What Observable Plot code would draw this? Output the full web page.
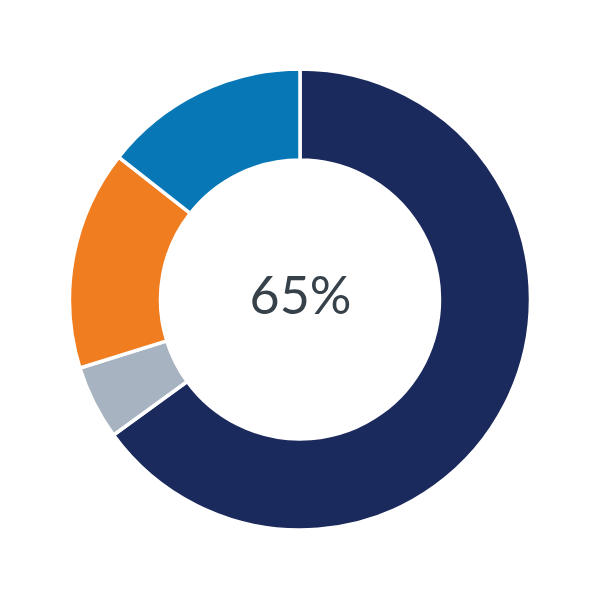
<!DOCTYPE html>
<html><head><meta charset="utf-8">
<script src="https://cdn.jsdelivr.net/npm/d3@7"></script>
<script src="https://cdn.jsdelivr.net/npm/@observablehq/plot@0.6"></script>
<style>body{margin:0;background:#fff}</style>
</head><body><div id="chart"></div>
<script>
const categories = ["A", "B", "C", "D"];
const values = [65, 5.2, 15.4, 14.4];
const colors = ["#1b2a5c", "#a8b3c1", "#f07d20", "#0877b6"];
const centerLabel = "65%";

const outerR = 230.5, innerR = 139.5;
const data = categories.map((c, i) => ({category: c, value: values[i], color: colors[i]}));

function donut(index, scales, vals, dims) {
  const cx = scales.x(0), cy = scales.y(0);
  const ro = scales.x(outerR) - cx, ri = scales.x(innerR) - cx;
  const pie = d3.pie().sort(null).value(d => d.value)(data);
  const arc = d3.arc().innerRadius(ri).outerRadius(ro);
  const g = d3.create("svg:g").attr("transform", `translate(${cx},${cy})`);
  g.selectAll("path").data(pie).join("path")
    .attr("d", arc)
    .attr("fill", d => d.data.color)
    .attr("stroke", "#fff")
    .attr("stroke-width", 3.5)
    .attr("stroke-linejoin", "miter");
  return g.node();
}

const chart = Plot.plot({
  width: 600, height: 599,
  margin: 0,
  x: {domain: [-300, 300], axis: null},
  y: {domain: [-299.5, 299.5], axis: null},
  marks: [
    donut,
    Plot.text([centerLabel], {x: 0, y: 0, text: d => d, fontSize: 52, fill: "#36414a", fontFamily: "Lato", dy: -3, textAnchor: "middle"})
  ]
});
chart.style.fontFamily = "Lato";
document.getElementById("chart").append(chart);
</script></body></html>
